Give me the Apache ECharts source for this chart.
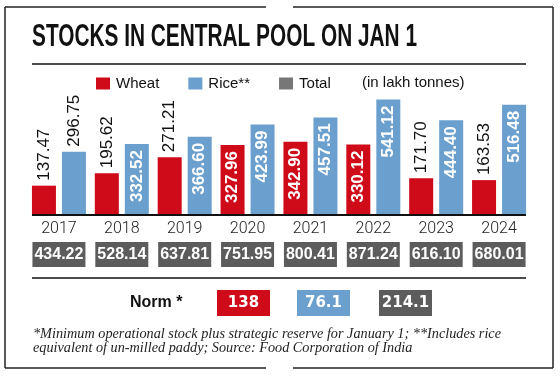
<!DOCTYPE html>
<html>
<head>
<meta charset="utf-8">
<script src="https://cdn.jsdelivr.net/npm/echarts@6/dist/echarts.min.js"></script>
<style>
  html, body { margin: 0; padding: 0; background: #fff; }
  #chart { width: 560px; height: 377px; }
</style>
</head>
<body>
<div id="chart"></div>
<script>
// values in lakh tonnes, stocks on Jan 1
var years = ['2017', '2018', '2019', '2020', '2021', '2022', '2023', '2024'];
var wheat = [137.47, 195.62, 271.21, 327.96, 342.90, 330.12, 171.70, 163.53];
var rice = [296.75, 332.52, 366.60, 423.99, 457.51, 541.12, 444.40, 516.48];
var totals = [434.22, 528.14, 637.81, 751.95, 800.41, 871.24, 616.10, 680.01];
var normLabels = ['138', '76.1', '214.1'];

var RED = '#cf0a19';
var BLUE = '#6a9fce';
var GREY = '#5c5c5c';
var SANS = '"Liberation Sans", Arial, sans-serif';

var titleText = 'STOCKS IN CENTRAL POOL ON JAN 1';
var note1 = '*Minimum operational stock plus strategic reserve for January 1; **Includes rice';
var note2 = 'equivalent of un-milled paddy; Source: Food Corporation of India';

// squeeze text into the width it has in the print layout
var ctx = document.createElement('canvas').getContext('2d');
function textWidth(font, s) {
    ctx.font = font;
    return ctx.measureText(s).width;
}
var titleFont = 'bold 31px "Liberation Sans"';
var titleScale = 385 / textWidth(titleFont, titleText);
var noteFont = 'italic 14px "Liberation Serif"';
var noteScale = 468 / textWidth(noteFont, note1);

function fmt(p) {
    return p.value.toFixed(2);
}

function barLabel(v) {
    if (v >= 300) {
        return {
            show: true, position: 'insideTop', rotate: 90, align: 'right', verticalAlign: 'middle',
            distance: 6, color: '#fff', fontFamily: SANS, fontSize: 17, fontWeight: 'bold', formatter: fmt
        };
    }
    return {
        show: true, position: 'top', rotate: 90, align: 'left', verticalAlign: 'middle',
        distance: 5, color: '#111', fontFamily: SANS, fontSize: 17, formatter: fmt
    };
}

function toItems(arr) {
    return arr.map(function (v) {
        return {value: v, label: barLabel(v)};
    });
}

var myChart = echarts.init(document.getElementById('chart'));

var graphics = [
    // frame, with the notch top and bottom
    {type: 'line', shape: {x1: 5, y1: 7, x2: 266, y2: 7}, style: {stroke: '#222', lineWidth: 1.5}},
    {type: 'line', shape: {x1: 293, y1: 7, x2: 553, y2: 7}, style: {stroke: '#222', lineWidth: 1.5}},
    {type: 'line', shape: {x1: 5, y1: 368, x2: 266, y2: 368}, style: {stroke: '#222', lineWidth: 1.5}},
    {type: 'line', shape: {x1: 293, y1: 368, x2: 553, y2: 368}, style: {stroke: '#222', lineWidth: 1.5}},
    {type: 'line', shape: {x1: 5, y1: 7, x2: 5, y2: 368}, style: {stroke: '#222', lineWidth: 1.5}},
    {type: 'line', shape: {x1: 553, y1: 7, x2: 553, y2: 368}, style: {stroke: '#222', lineWidth: 1.5}},
    {
        type: 'text', x: 32, y: 37, scaleX: titleScale, originX: 0,
        style: {text: titleText, font: titleFont, fill: '#111', textVerticalAlign: 'middle'}
    },
    {type: 'line', shape: {x1: 32, y1: 64, x2: 526, y2: 64}, style: {stroke: '#111', lineWidth: 1.5}},
    {
        type: 'text', x: 362, y: 83,
        style: {text: '(in lakh tonnes)', font: '15px "Liberation Sans"', fill: '#111', textVerticalAlign: 'middle'}
    },
    {type: 'line', shape: {x1: 32, y1: 215, x2: 526, y2: 215}, style: {stroke: '#111', lineWidth: 2}, z: 10},
    {type: 'line', shape: {x1: 32, y1: 278, x2: 526, y2: 278}, style: {stroke: '#111', lineWidth: 1.5}},
    {
        type: 'text', x: 130, y: 303,
        style: {text: 'Norm *', font: 'bold 16px "Liberation Sans"', fill: '#111', textVerticalAlign: 'middle'}
    },
    {
        type: 'text', x: 33, y: 334, scaleX: noteScale, originX: 0,
        style: {text: note1, font: noteFont, fill: '#222', textVerticalAlign: 'middle'}
    },
    {
        type: 'text', x: 33, y: 348, scaleX: noteScale, originX: 0,
        style: {text: note2, font: noteFont, fill: '#222', textVerticalAlign: 'middle'}
    }
];

// norm boxes
var normX = [217, 297, 379];
var normColors = [RED, BLUE, GREY];
normLabels.forEach(function (t, i) {
    graphics.push({
        type: 'rect', shape: {x: normX[i], y: 290, width: 53, height: 26},
        style: {fill: normColors[i]}
    });
    graphics.push({
        type: 'text', x: normX[i] + 26.5, y: 303.5, z: 5,
        style: {
            text: t, font: 'bold 15px "DejaVu Sans"', fill: '#fff',
            textAlign: 'center', textVerticalAlign: 'middle'
        }
    });
});

var option = {
    animation: false,
    legend: {
        left: 91, top: 71, itemWidth: 14, itemHeight: 12, itemGap: 29,
        icon: 'rect', selectedMode: false,
        textStyle: {fontFamily: SANS, fontSize: 15, color: '#111', padding: [0, 0, 0, 1]},
        data: ['Wheat', 'Rice**', 'Total']
    },
    grid: {left: 27.5, right: 29.5, top: 87, bottom: 162, containLabel: false},
    xAxis: [
        {
            type: 'category', data: years, position: 'bottom',
            axisLine: {show: false}, axisTick: {show: false},
            axisLabel: {interval: 0, margin: 6, fontFamily: 'Roboto', fontWeight: 300, fontSize: 16, color: '#222'}
        },
        {
            type: 'category', data: totals.map(function (v) { return v.toFixed(2); }), position: 'bottom',
            axisLine: {show: false}, axisTick: {show: false},
            axisLabel: {
                interval: 0, margin: 27, formatter: '{t|{value}}',
                rich: {
                    t: {
                        width: 53, height: 25, lineHeight: 25, align: 'center',
                        backgroundColor: GREY, color: '#fff',
                        fontFamily: SANS, fontWeight: 'bold', fontSize: 16
                    }
                }
            }
        }
    ],
    yAxis: {type: 'value', min: 0, max: 600, show: false, splitLine: {show: false}},
    series: [
        {
            name: 'Wheat', type: 'bar', barWidth: 24, barGap: '25%',
            itemStyle: {color: RED}, data: toItems(wheat)
        },
        {
            name: 'Rice**', type: 'bar', barWidth: 24, barGap: '25%',
            itemStyle: {color: BLUE}, data: toItems(rice)
        },
        {
            name: 'Total', type: 'bar', xAxisIndex: 1,
            itemStyle: {color: '#777'}, data: []
        }
    ],
    graphic: graphics
};

myChart.setOption(option);
</script>
</body>
</html>
